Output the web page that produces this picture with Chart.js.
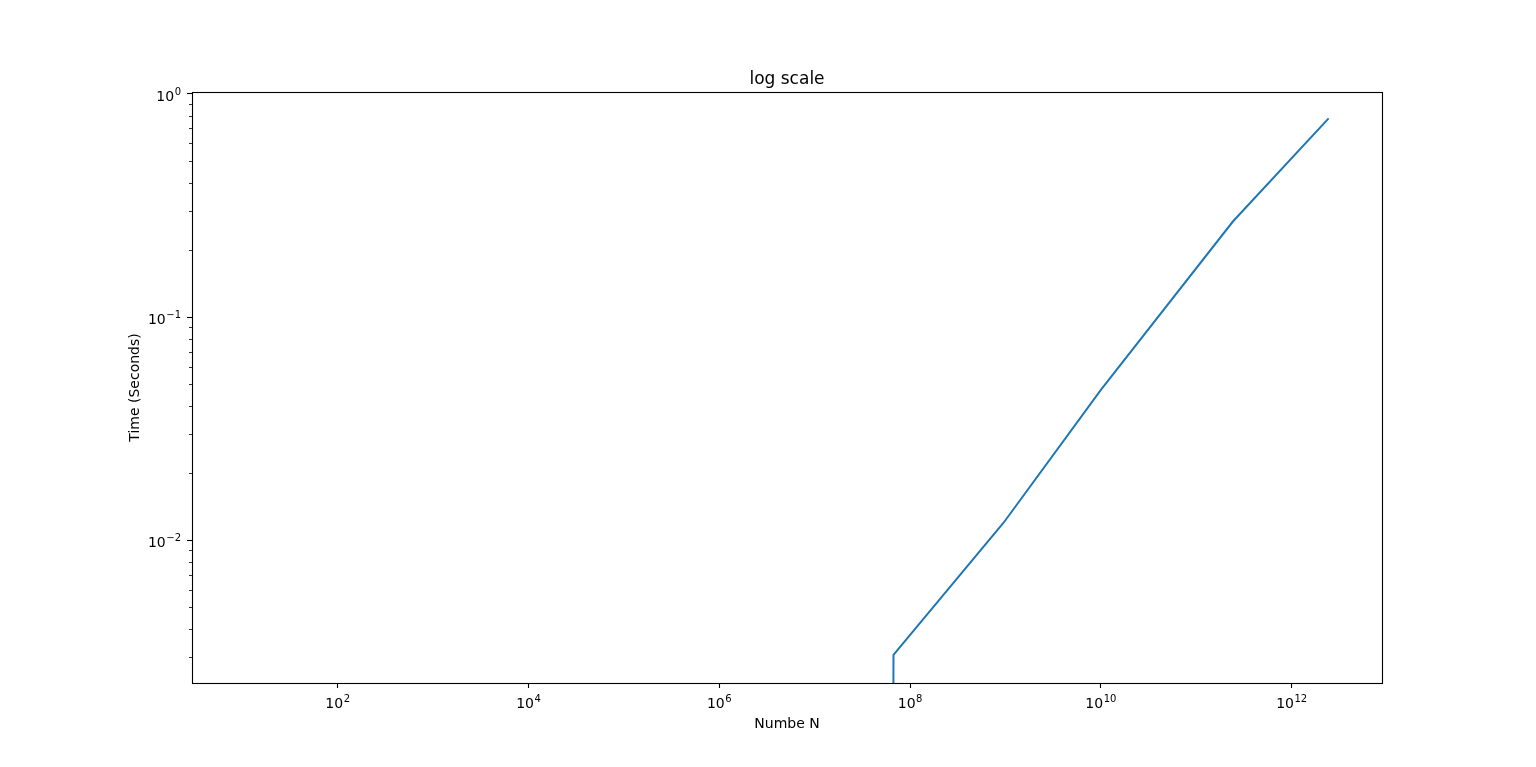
<!DOCTYPE html>
<html>
<head>
<meta charset="utf-8">
<script src="https://cdn.jsdelivr.net/npm/chart.js@4/dist/chart.umd.min.js"></script>
<style>
  html, body { margin: 0; padding: 0; background: #fff; }
  #wrap { width: 1536px; height: 767px; position: relative; }
</style>
</head>
<body>
<div id="wrap"><canvas id="chart"></canvas></div>
<script>
/* log scale timing chart */

// problem sizes N and measured times (0 = too fast to measure)
const sizesN  = [11, 100, 1000, 10000, 100000, 1000000, 10000000,
                 67000000, 960000000, 10000000000, 242000000000, 2440000000000];
const seconds = [0, 0, 0, 0, 0, 0, 0,
                 0.00306, 0.0120, 0.0472, 0.268, 0.777];

// tick labels are drawn as 10 with a raised exponent
const xTickValues = [1e2, 1e4, 1e6, 1e8, 1e10, 1e12];
const xTickExps   = ['2', '4', '6', '8', '10', '12'];
const yTickValues = [1, 0.1, 0.01];
const yTickExps   = ['0', '\u22121', '\u22122'];
const yMinorMults = [2, 3, 4, 5, 6, 7, 8, 9];

const X_MIN = 2.97, X_MAX = 8.85e12;
const Y_MIN = 0.00229, Y_MAX = 1.02;
const FONT = "'DejaVu Sans', sans-serif";

// matplotlib clips non-positive values on a log axis to a tiny number
function clipLog( v ) {
    return v > 0 ? v : 1e-300;
}

const points = sizesN.map( ( n, i ) => ({ x: n, y: clipLog( seconds[i] ) }) );

// minor y ticks (2..9 per decade), unlabeled
function yMinorTicks() {
    let out = [];
    for ( const dec of [0.001, 0.01, 0.1] )
        for ( const m of yMinorMults ) {
            const v = m * dec;
            if ( v >= Y_MIN && v <= Y_MAX ) out.push( v );
        }
    return out;
}

function powerLabel( c, exp ) {
    c.font = "14px " + FONT;
    const wBase = c.measureText( '10' ).width;
    c.font = "10px " + FONT;
    const wExp = c.measureText( exp ).width;
    return { wBase, wExp, w: wBase + wExp + 0.5 };
}

function drawPower( c, exp, left, baseline ) {
    const m = powerLabel( c, exp );
    c.font = "14px " + FONT;
    c.fillText( '10', left, baseline );
    c.font = "10px " + FONT;
    c.fillText( exp, left + m.wBase + 0.5, baseline - 6 );
}

const axisDecor = {
    id: 'axisDecor',
    afterDatasetsDraw( chart ) {
        const { ctx, chartArea: a } = chart;
        ctx.save();
        ctx.strokeStyle = '#000';
        ctx.lineWidth = 1.1;
        ctx.strokeRect( Math.round( a.left ) + 0.5, Math.round( a.top ) + 0.5,
                        Math.round( a.right - a.left ), Math.round( a.bottom - a.top ) );
        ctx.restore();
    },
    afterDraw( chart ) {
        const { ctx, chartArea: a } = chart;
        const xs = chart.scales.x, ys = chart.scales.y;
        ctx.save();
        ctx.fillStyle = '#000';
        ctx.textAlign = 'left';
        ctx.textBaseline = 'alphabetic';

        xTickValues.forEach( ( v, i ) => {
            const px = xs.getPixelForValue( v );
            const m = powerLabel( ctx, xTickExps[i] );
            drawPower( ctx, xTickExps[i], px - m.w / 2, a.bottom + 24.5 );
        });

        yTickValues.forEach( ( v, i ) => {
            const py = ys.getPixelForValue( v );
            const m = powerLabel( ctx, yTickExps[i] );
            drawPower( ctx, yTickExps[i], a.left - 11 - m.w, py + 6.8 );
        });

        // short minor ticks
        ctx.strokeStyle = '#000';
        ctx.lineWidth = 0.8;
        yMinorTicks().forEach( v => {
            const py = Math.round( ys.getPixelForValue( v ) ) + 0.5;
            ctx.beginPath();
            ctx.moveTo( a.left - 3, py );
            ctx.lineTo( a.left, py );
            ctx.stroke();
        });
        ctx.restore();
    }
};

const ctx = document.getElementById('chart').getContext('2d');
const chart = new Chart(ctx, {
    type: 'line',
    data: {
        datasets: [{
            label: 'time',
            data: points,
            borderColor: '#1f77b4',
            backgroundColor: '#1f77b4',
            borderWidth: 2,
            pointRadius: 0,
            fill: false,
            tension: 0
        }]
    },
    options: {
        responsive: true,
        maintainAspectRatio: false,
        animation: false,
        layout: { padding: { left: 0, right: 154, top: 0, bottom: 0 } },
        font: { family: FONT },
        plugins: {
            legend: { display: false },
            tooltip: { enabled: false },
            title: {
                display: true,
                fullSize: false,
                text: 'log scale',
                color: '#000',
                font: { family: FONT, size: 17, weight: 'normal', lineHeight: 1.2 },
                padding: { top: 69.8, bottom: 1.8 }
            }
        },
        scales: {
            x: {
                type: 'logarithmic',
                min: X_MIN,
                max: X_MAX,
                afterFit: ( s ) => { s.height = 84; },
                afterBuildTicks: ( s ) => {
                    s.ticks = xTickValues.map( v => ({ value: v, major: true }) );
                },
                border: { display: true, color: '#000', width: 1 },
                grid: { drawOnChartArea: false, drawTicks: true, tickLength: 5,
                        tickColor: '#000', tickWidth: 1.1 },
                ticks: { display: false, autoSkip: false, maxRotation: 0 },
                title: {
                    display: true,
                    text: 'Numbe N',
                    color: '#000',
                    font: { family: FONT, size: 14, lineHeight: 1.2 },
                    padding: { top: 0, bottom: 34 }
                }
            },
            y: {
                type: 'logarithmic',
                min: Y_MIN,
                max: Y_MAX,
                afterFit: ( s ) => { s.width = 192; },
                afterBuildTicks: ( s ) => {
                    s.ticks = yTickValues.map( v => ({ value: v, major: true }) )
                        .sort( ( a, b ) => a.value - b.value );
                },
                border: { display: true, color: '#000', width: 1 },
                grid: { drawOnChartArea: false, drawTicks: true, tickLength: 5,
                        tickColor: '#000', tickWidth: 1.1 },
                ticks: { display: false, autoSkip: false },
                title: {
                    display: true,
                    text: 'Time (Seconds)',
                    color: '#000',
                    font: { family: FONT, size: 14, lineHeight: 1.2 },
                    padding: { top: 126.6, bottom: 0 }
                }
            }
        }
    },
    plugins: [ axisDecor ]
});
</script>
</body>
</html>
